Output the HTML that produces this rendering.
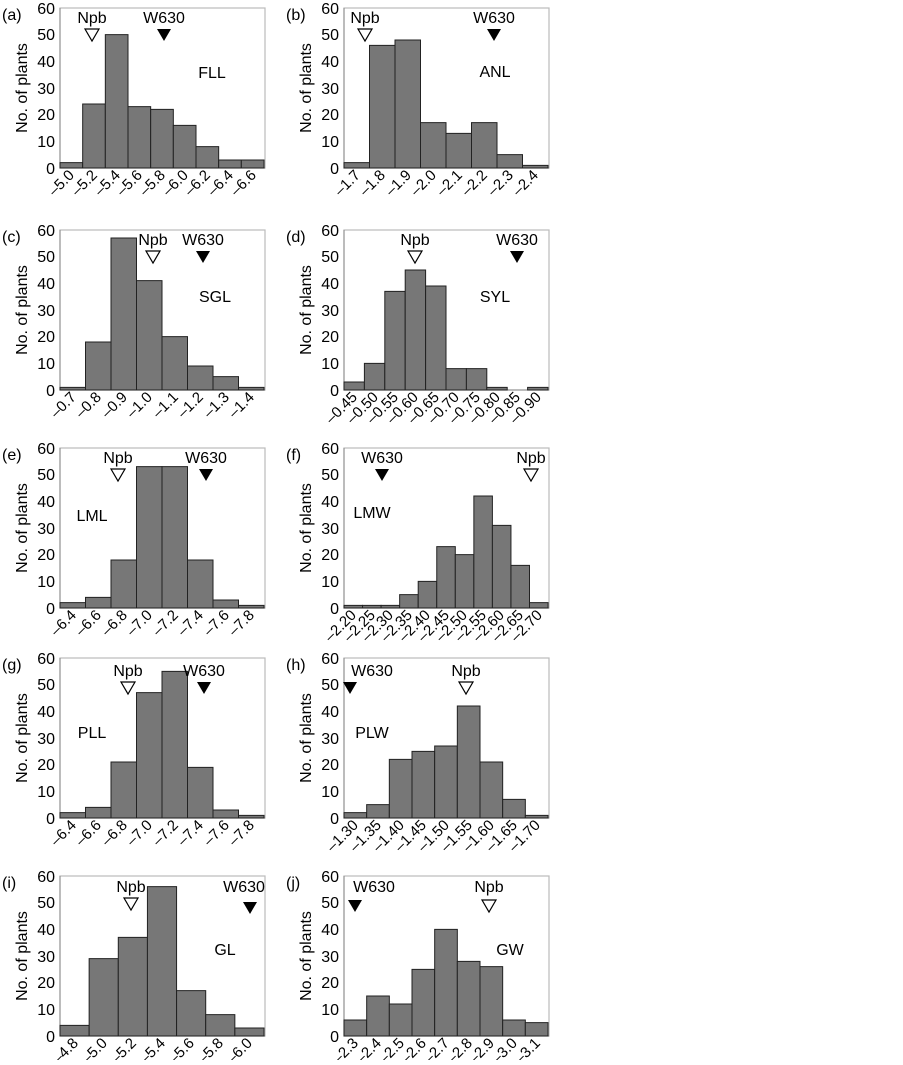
<!DOCTYPE html>
<html><head><meta charset="utf-8"><style>
body{margin:0;background:#fff;width:903px;height:1060px;overflow:hidden}
svg{font-family:"Liberation Sans",Arial,sans-serif;fill:#000}
.tk{font-size:15px;text-anchor:end}
.yk{font-size:16px;text-anchor:end}
.lb{font-size:16px}
.mk{font-size:16px;text-anchor:middle}
.bars rect{fill:#777;stroke:#222;stroke-width:1;vector-effect:non-scaling-stroke}
</style></head><body>
<svg width="903" height="1060" viewBox="0 0 903 1060">
<defs>
<g id="ax">
<rect x="0" y="0" width="205" height="160" fill="none" stroke="#bbb" stroke-width="1.2"/>
<line x1="0" y1="0" x2="0" y2="160" stroke="#888"/>
<line x1="0" y1="160" x2="205" y2="160" stroke="#888"/>
<text class="yk" x="-5" y="166">0</text>
<text class="yk" x="-5" y="139">10</text>
<text class="yk" x="-5" y="112">20</text>
<text class="yk" x="-5" y="86">30</text>
<text class="yk" x="-5" y="59">40</text>
<text class="yk" x="-5" y="32">50</text>
<text class="yk" x="-5" y="6">60</text>
<text class="lb" transform="translate(-33,80) rotate(-90)" text-anchor="middle" font-size="17">No. of plants</text>
</g>
<path id="tw" d="M-7,-6 L7,-6 L0,6 Z" fill="#fff" stroke="#000" stroke-width="1.2"/>
<path id="tb" d="M-7,-6 L7,-6 L0,6 Z" fill="#000"/>
</defs>

<!-- (a) -->
<g transform="translate(60,8)">
<use href="#ax"/><text class="lb" x="-58" y="12">(a)</text>
<g class="bars" transform="translate(0,160) scale(1,-2.6667)">
<rect x="0" y="0" width="22.67" height="2"/><rect x="22.67" y="0" width="22.67" height="24"/><rect x="45.33" y="0" width="22.67" height="50"/><rect x="68" y="0" width="22.67" height="23"/><rect x="90.67" y="0" width="22.67" height="22"/><rect x="113.33" y="0" width="22.67" height="16"/><rect x="136" y="0" width="22.67" height="8"/><rect x="158.67" y="0" width="22.67" height="3"/><rect x="181.33" y="0" width="22.67" height="3"/>
</g>
<text class="tk" transform="translate(15,168) rotate(-45)">–5.0</text><text class="tk" transform="translate(38,168) rotate(-45)">–5.2</text><text class="tk" transform="translate(61,168) rotate(-45)">–5.4</text><text class="tk" transform="translate(83,168) rotate(-45)">–5.6</text><text class="tk" transform="translate(106,168) rotate(-45)">–5.8</text><text class="tk" transform="translate(129,168) rotate(-45)">–6.0</text><text class="tk" transform="translate(151,168) rotate(-45)">–6.2</text><text class="tk" transform="translate(174,168) rotate(-45)">–6.4</text><text class="tk" transform="translate(197,168) rotate(-45)">–6.6</text>
<use href="#tw" x="32" y="27"/><text class="mk" x="32" y="15">Npb</text>
<use href="#tb" x="104" y="27"/><text class="mk" x="104" y="15">W630</text>
<text class="lb" x="152" y="70" text-anchor="middle">FLL</text>
</g>

<!-- (b) -->
<g transform="translate(344,8)">
<use href="#ax"/><text class="lb" x="-58" y="12">(b)</text>
<g class="bars" transform="translate(0,160) scale(1,-2.6667)">
<rect x="0" y="0" width="25.5" height="2"/><rect x="25.5" y="0" width="25.5" height="46"/><rect x="51" y="0" width="25.5" height="48"/><rect x="76.5" y="0" width="25.5" height="17"/><rect x="102" y="0" width="25.5" height="13"/><rect x="127.5" y="0" width="25.5" height="17"/><rect x="153" y="0" width="25.5" height="5"/><rect x="178.5" y="0" width="25.5" height="1"/>
</g>
<text class="tk" transform="translate(17,168) rotate(-45)">–1.7</text><text class="tk" transform="translate(42,168) rotate(-45)">–1.8</text><text class="tk" transform="translate(68,168) rotate(-45)">–1.9</text><text class="tk" transform="translate(93,168) rotate(-45)">–2.0</text><text class="tk" transform="translate(119,168) rotate(-45)">–2.1</text><text class="tk" transform="translate(144,168) rotate(-45)">–2.2</text><text class="tk" transform="translate(170,168) rotate(-45)">–2.3</text><text class="tk" transform="translate(195,168) rotate(-45)">–2.4</text>
<use href="#tw" x="21" y="27"/><text class="mk" x="21" y="15">Npb</text>
<use href="#tb" x="150" y="27"/><text class="mk" x="150" y="15">W630</text>
<text class="lb" x="151" y="69" text-anchor="middle">ANL</text>
</g>

<!-- (c) -->
<g transform="translate(60,230)">
<use href="#ax"/><text class="lb" x="-58" y="12">(c)</text>
<g class="bars" transform="translate(0,160) scale(1,-2.6667)">
<rect x="0" y="0" width="25.5" height="1"/><rect x="25.5" y="0" width="25.5" height="18"/><rect x="51" y="0" width="25.5" height="57"/><rect x="76.5" y="0" width="25.5" height="41"/><rect x="102" y="0" width="25.5" height="20"/><rect x="127.5" y="0" width="25.5" height="9"/><rect x="153" y="0" width="25.5" height="5"/><rect x="178.5" y="0" width="25.5" height="1"/>
</g>
<text class="tk" transform="translate(17,168) rotate(-45)">–0.7</text><text class="tk" transform="translate(42,168) rotate(-45)">–0.8</text><text class="tk" transform="translate(68,168) rotate(-45)">–0.9</text><text class="tk" transform="translate(93,168) rotate(-45)">–1.0</text><text class="tk" transform="translate(119,168) rotate(-45)">–1.1</text><text class="tk" transform="translate(144,168) rotate(-45)">–1.2</text><text class="tk" transform="translate(170,168) rotate(-45)">–1.3</text><text class="tk" transform="translate(195,168) rotate(-45)">–1.4</text>
<use href="#tw" x="93" y="27"/><text class="mk" x="93" y="15">Npb</text>
<use href="#tb" x="143" y="27"/><text class="mk" x="143" y="15">W630</text>
<text class="lb" x="155" y="72" text-anchor="middle">SGL</text>
</g>

<!-- (d) -->
<g transform="translate(344,230)">
<use href="#ax"/><text class="lb" x="-58" y="12">(d)</text>
<g class="bars" transform="translate(0,160) scale(1,-2.6667)">
<rect x="0" y="0" width="20.4" height="3"/><rect x="20.4" y="0" width="20.4" height="10"/><rect x="40.8" y="0" width="20.4" height="37"/><rect x="61.2" y="0" width="20.4" height="45"/><rect x="81.6" y="0" width="20.4" height="39"/><rect x="102" y="0" width="20.4" height="8"/><rect x="122.4" y="0" width="20.4" height="8"/><rect x="142.8" y="0" width="20.4" height="1"/><rect x="183.6" y="0" width="20.4" height="1"/>
</g>
<text class="tk" transform="translate(14,168) rotate(-45)">–0.45</text><text class="tk" transform="translate(35,168) rotate(-45)">–0.50</text><text class="tk" transform="translate(55,168) rotate(-45)">–0.55</text><text class="tk" transform="translate(75,168) rotate(-45)">–0.60</text><text class="tk" transform="translate(96,168) rotate(-45)">–0.65</text><text class="tk" transform="translate(116,168) rotate(-45)">–0.70</text><text class="tk" transform="translate(137,168) rotate(-45)">–0.75</text><text class="tk" transform="translate(157,168) rotate(-45)">–0.80</text><text class="tk" transform="translate(177,168) rotate(-45)">–0.85</text><text class="tk" transform="translate(198,168) rotate(-45)">–0.90</text>
<use href="#tw" x="71" y="27"/><text class="mk" x="71" y="15">Npb</text>
<use href="#tb" x="173" y="27"/><text class="mk" x="173" y="15">W630</text>
<text class="lb" x="151" y="72" text-anchor="middle">SYL</text>
</g>

<!-- (e) -->
<g transform="translate(60,448)">
<use href="#ax"/><text class="lb" x="-58" y="12">(e)</text>
<g class="bars" transform="translate(0,160) scale(1,-2.6667)">
<rect x="0" y="0" width="25.5" height="2"/><rect x="25.5" y="0" width="25.5" height="4"/><rect x="51" y="0" width="25.5" height="18"/><rect x="76.5" y="0" width="25.5" height="53"/><rect x="102" y="0" width="25.5" height="53"/><rect x="127.5" y="0" width="25.5" height="18"/><rect x="153" y="0" width="25.5" height="3"/><rect x="178.5" y="0" width="25.5" height="1"/>
</g>
<text class="tk" transform="translate(17,168) rotate(-45)">–6.4</text><text class="tk" transform="translate(42,168) rotate(-45)">–6.6</text><text class="tk" transform="translate(68,168) rotate(-45)">–6.8</text><text class="tk" transform="translate(93,168) rotate(-45)">–7.0</text><text class="tk" transform="translate(119,168) rotate(-45)">–7.2</text><text class="tk" transform="translate(144,168) rotate(-45)">–7.4</text><text class="tk" transform="translate(170,168) rotate(-45)">–7.6</text><text class="tk" transform="translate(195,168) rotate(-45)">–7.8</text>
<use href="#tw" x="58" y="27"/><text class="mk" x="58" y="15">Npb</text>
<use href="#tb" x="146" y="27"/><text class="mk" x="146" y="15">W630</text>
<text class="lb" x="32" y="73" text-anchor="middle">LML</text>
</g>

<!-- (f) -->
<g transform="translate(344,448)">
<use href="#ax"/><text class="lb" x="-58" y="12">(f)</text>
<g class="bars" transform="translate(0,160) scale(1,-2.6667)">
<rect x="0" y="0" width="18.55" height="1"/><rect x="18.55" y="0" width="18.55" height="1"/><rect x="37.1" y="0" width="18.55" height="1"/><rect x="55.65" y="0" width="18.55" height="5"/><rect x="74.2" y="0" width="18.55" height="10"/><rect x="92.75" y="0" width="18.55" height="23"/><rect x="111.3" y="0" width="18.55" height="20"/><rect x="129.85" y="0" width="18.55" height="42"/><rect x="148.4" y="0" width="18.55" height="31"/><rect x="166.95" y="0" width="18.55" height="16"/><rect x="185.5" y="0" width="18.55" height="2"/>
</g>
<text class="tk" transform="translate(13,168) rotate(-45)">–2.20</text><text class="tk" transform="translate(32,168) rotate(-45)">–2.25</text><text class="tk" transform="translate(50,168) rotate(-45)">–2.30</text><text class="tk" transform="translate(69,168) rotate(-45)">–2.35</text><text class="tk" transform="translate(87,168) rotate(-45)">–2.40</text><text class="tk" transform="translate(106,168) rotate(-45)">–2.45</text><text class="tk" transform="translate(124,168) rotate(-45)">–2.50</text><text class="tk" transform="translate(143,168) rotate(-45)">–2.55</text><text class="tk" transform="translate(161,168) rotate(-45)">–2.60</text><text class="tk" transform="translate(180,168) rotate(-45)">–2.65</text><text class="tk" transform="translate(199,168) rotate(-45)">–2.70</text>
<use href="#tb" x="38" y="27"/><text class="mk" x="38" y="15">W630</text>
<use href="#tw" x="187" y="27"/><text class="mk" x="187" y="15">Npb</text>
<text class="lb" x="28" y="70" text-anchor="middle">LMW</text>
</g>

<!-- (g) -->
<g transform="translate(60,658)">
<use href="#ax"/><text class="lb" x="-58" y="12">(g)</text>
<g class="bars" transform="translate(0,160) scale(1,-2.6667)">
<rect x="0" y="0" width="25.5" height="2"/><rect x="25.5" y="0" width="25.5" height="4"/><rect x="51" y="0" width="25.5" height="21"/><rect x="76.5" y="0" width="25.5" height="47"/><rect x="102" y="0" width="25.5" height="55"/><rect x="127.5" y="0" width="25.5" height="19"/><rect x="153" y="0" width="25.5" height="3"/><rect x="178.5" y="0" width="25.5" height="1"/>
</g>
<text class="tk" transform="translate(17,168) rotate(-45)">–6.4</text><text class="tk" transform="translate(42,168) rotate(-45)">–6.6</text><text class="tk" transform="translate(68,168) rotate(-45)">–6.8</text><text class="tk" transform="translate(93,168) rotate(-45)">–7.0</text><text class="tk" transform="translate(119,168) rotate(-45)">–7.2</text><text class="tk" transform="translate(144,168) rotate(-45)">–7.4</text><text class="tk" transform="translate(170,168) rotate(-45)">–7.6</text><text class="tk" transform="translate(195,168) rotate(-45)">–7.8</text>
<use href="#tw" x="68" y="30"/><text class="mk" x="68" y="18">Npb</text>
<use href="#tb" x="144" y="30"/><text class="mk" x="144" y="18">W630</text>
<text class="lb" x="32" y="80" text-anchor="middle">PLL</text>
</g>

<!-- (h) -->
<g transform="translate(344,658)">
<use href="#ax"/><text class="lb" x="-58" y="12">(h)</text>
<g class="bars" transform="translate(0,160) scale(1,-2.6667)">
<rect x="0" y="0" width="22.67" height="2"/><rect x="22.67" y="0" width="22.67" height="5"/><rect x="45.33" y="0" width="22.67" height="22"/><rect x="68" y="0" width="22.67" height="25"/><rect x="90.67" y="0" width="22.67" height="27"/><rect x="113.33" y="0" width="22.67" height="42"/><rect x="136" y="0" width="22.67" height="21"/><rect x="158.67" y="0" width="22.67" height="7"/><rect x="181.33" y="0" width="22.67" height="1"/>
</g>
<text class="tk" transform="translate(15,168) rotate(-45)">–1.30</text><text class="tk" transform="translate(38,168) rotate(-45)">–1.35</text><text class="tk" transform="translate(61,168) rotate(-45)">–1.40</text><text class="tk" transform="translate(83,168) rotate(-45)">–1.45</text><text class="tk" transform="translate(106,168) rotate(-45)">–1.50</text><text class="tk" transform="translate(129,168) rotate(-45)">–1.55</text><text class="tk" transform="translate(151,168) rotate(-45)">–1.60</text><text class="tk" transform="translate(174,168) rotate(-45)">–1.65</text><text class="tk" transform="translate(197,168) rotate(-45)">–1.70</text>
<use href="#tb" x="6" y="30"/><text class="mk" x="28" y="18">W630</text>
<use href="#tw" x="122" y="30"/><text class="mk" x="122" y="18">Npb</text>
<text class="lb" x="28" y="80" text-anchor="middle">PLW</text>
</g>

<!-- (i) -->
<g transform="translate(60,876)">
<use href="#ax"/><text class="lb" x="-58" y="12">(i)</text>
<g class="bars" transform="translate(0,160) scale(1,-2.6667)">
<rect x="0" y="0" width="29.14" height="4"/><rect x="29.14" y="0" width="29.14" height="29"/><rect x="58.29" y="0" width="29.14" height="37"/><rect x="87.43" y="0" width="29.14" height="56"/><rect x="116.57" y="0" width="29.14" height="17"/><rect x="145.71" y="0" width="29.14" height="8"/><rect x="174.86" y="0" width="29.14" height="3"/>
</g>
<text class="tk" transform="translate(19,168) rotate(-45)">–4.8</text><text class="tk" transform="translate(48,168) rotate(-45)">–5.0</text><text class="tk" transform="translate(77,168) rotate(-45)">–5.2</text><text class="tk" transform="translate(106,168) rotate(-45)">–5.4</text><text class="tk" transform="translate(135,168) rotate(-45)">–5.6</text><text class="tk" transform="translate(164,168) rotate(-45)">–5.8</text><text class="tk" transform="translate(193,168) rotate(-45)">–6.0</text>
<use href="#tw" x="71" y="28"/><text class="mk" x="71" y="16">Npb</text>
<use href="#tb" x="190" y="32"/><text class="mk" x="184" y="16">W630</text>
<text class="lb" x="165" y="79" text-anchor="middle">GL</text>
</g>

<!-- (j) -->
<g transform="translate(344,876)">
<use href="#ax"/><text class="lb" x="-58" y="12">(j)</text>
<g class="bars" transform="translate(0,160) scale(1,-2.6667)">
<rect x="0" y="0" width="22.67" height="6"/><rect x="22.67" y="0" width="22.67" height="15"/><rect x="45.33" y="0" width="22.67" height="12"/><rect x="68" y="0" width="22.67" height="25"/><rect x="90.67" y="0" width="22.67" height="40"/><rect x="113.33" y="0" width="22.67" height="28"/><rect x="136" y="0" width="22.67" height="26"/><rect x="158.67" y="0" width="22.67" height="6"/><rect x="181.33" y="0" width="22.67" height="5"/>
</g>
<text class="tk" transform="translate(15,168) rotate(-45)">–2.3</text><text class="tk" transform="translate(38,168) rotate(-45)">–2.4</text><text class="tk" transform="translate(61,168) rotate(-45)">–2.5</text><text class="tk" transform="translate(83,168) rotate(-45)">–2.6</text><text class="tk" transform="translate(106,168) rotate(-45)">–2.7</text><text class="tk" transform="translate(129,168) rotate(-45)">–2.8</text><text class="tk" transform="translate(151,168) rotate(-45)">–2.9</text><text class="tk" transform="translate(174,168) rotate(-45)">–3.0</text><text class="tk" transform="translate(197,168) rotate(-45)">–3.1</text>
<use href="#tb" x="11" y="30"/><text class="mk" x="30" y="16">W630</text>
<use href="#tw" x="145" y="30"/><text class="mk" x="145" y="16">Npb</text>
<text class="lb" x="166" y="79" text-anchor="middle">GW</text>
</g>
</svg>
</body></html>
